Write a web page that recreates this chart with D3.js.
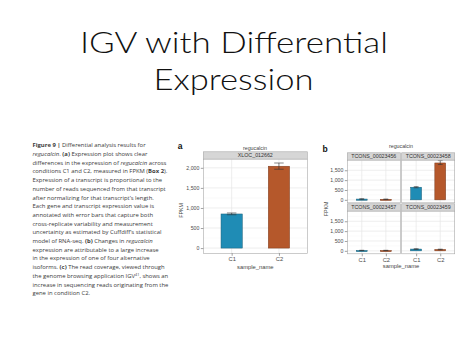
<!DOCTYPE html>
<html><head><meta charset="utf-8">
<script src="https://cdn.jsdelivr.net/npm/d3@7"></script>
<style>html,body{margin:0;padding:0;background:#fff;}svg{display:block;}</style>
</head><body>
<script>
const titleLines = ["IGV with Differential", "Expression"];
const captionLines = [
  [["b","Figure 9 | "],["n","Differential analysis results for"]],
  [["i","regucalcin"],["n",". "],["b","(a)"],["n"," Expression plot shows clear"]],
  [["n","differences in the expression of "],["i","regucalcin"],["n"," across"]],
  [["n","conditions C1 and C2, measured in FPKM ("],["b","Box 2"],["n",")."]],
  [["n","Expression of a transcript is proportional to the"]],
  [["n","number of reads sequenced from that transcript"]],
  [["n","after normalizing for that transcript\u2019s length."]],
  [["n","Each gene and transcript expression value is"]],
  [["n","annotated with error bars that capture both"]],
  [["n","cross-replicate variability and measurement"]],
  [["n","uncertainty as estimated by Cuffdiff\u2019s statistical"]],
  [["n","model of RNA-seq. "],["b","(b)"],["n"," Changes in "],["i","regucalcin"]],
  [["n","expression are attributable to a large increase"]],
  [["n","in the expression of one of four alternative"]],
  [["n","isoforms. "],["b","(c)"],["n"," The read coverage, viewed through"]],
  [["n","the genome browsing application IGV"],["s","41"],["r",", shows an"]],
  [["n","increase in sequencing reads originating from the"]],
  [["n","gene in condition C2."]]
];
const samples = ["C1", "C2"];
const geneName = "regucalcin";
const geneId = "XLOC_012662";
const geneFPKM = [850, 2040];
const geneLow = [830, 1965];
const geneHigh = [875, 2120];
const isoforms = ["TCONS_00023456", "TCONS_00023458", "TCONS_00023457", "TCONS_00023459"];
const isoFPKM = [[40, 30], [640, 1870], [20, 20], [90, 70]];
const isoLow = [[25, 20], [610, 1790], [12, 12], [70, 55]];
const isoHigh = [[55, 40], [670, 1990], [28, 28], [110, 85]];
const yTicksA = [0, 500, 1000, 1500, 2000];
const yTicksB = [0, 500, 1000, 1500];
const yLabel = "FPKM";
const xLabel = "sample_name";

const W = 474, H = 355;
const svg = d3.select("body").append("svg").attr("width", W).attr("height", H);
svg.append("rect").attr("width", W).attr("height", H).attr("fill", "#fff");

// Title
const title = svg.append("g").attr("font-family", "Lato, 'Open Sans', sans-serif")
  .attr("font-weight", 300).attr("fill", "#111").attr("text-anchor", "middle");
title.append("text").attr("x", 234).attr("y", 53.3).attr("font-size", 30)
  .attr("textLength", 308).attr("lengthAdjust", "spacingAndGlyphs").text(titleLines[0]);
title.append("text").attr("x", 233.5).attr("y", 90).attr("font-size", 30)
  .attr("textLength", 160).attr("lengthAdjust", "spacingAndGlyphs").text(titleLines[1]);

// Caption
const cap = svg.append("g").attr("font-family", "'Open Sans', 'Noto Sans', sans-serif")
  .attr("font-size", 5.9).attr("fill", "#3a3a3a");
captionLines.forEach((parts, i) => {
  const t = cap.append("text").attr("x", 32.5).attr("y", 147.3 + i * 8.7);
  parts.forEach(([st, s]) => {
    const ts = t.append("tspan").text(s);
    if (st === "b") ts.attr("font-weight", 700);
    if (st === "i") ts.attr("font-style", "italic");
    if (st === "s") ts.attr("font-size", 3.8).attr("dy", -2);
    if (st === "r") ts.attr("dy", 2);
  });
});

const colors = ["#1f8cb5", "#b5582b"];
const strokes = ["#1a5f78", "#7a3a1c"];
const fontP = "'Liberation Sans', Arial, sans-serif";

function drawPanel(g, x0, x1, y0, y1, domain, ticks, vals, lo, hi, showY, showX, barMin) {
  const x = d3.scalePoint().domain(samples).range([x0, x1]).padding(0.6);
  const y = d3.scaleLinear().domain(domain).range([y1, y0]);
  const step = x.step();
  g.append("rect").attr("x", x0).attr("y", y0).attr("width", x1 - x0).attr("height", y1 - y0).attr("fill", "#fff");
  const minor = [];
  for (let i = 0; i < ticks.length; i++) {
    const m = ticks[i] + 250;
    if (y(m) > y0) minor.push(m);
  }
  g.selectAll(null).data(minor).enter().append("line")
    .attr("x1", x0).attr("x2", x1).attr("y1", d => y(d)).attr("y2", d => y(d))
    .attr("stroke", "#f4f4f4").attr("stroke-width", 0.5);
  g.selectAll(null).data(ticks).enter().append("line")
    .attr("x1", x0).attr("x2", x1).attr("y1", d => y(d)).attr("y2", d => y(d))
    .attr("stroke", "#e6e6e6").attr("stroke-width", 0.7);
  g.selectAll(null).data(samples).enter().append("line")
    .attr("x1", d => x(d)).attr("x2", d => x(d)).attr("y1", y0).attr("y2", y1)
    .attr("stroke", "#e6e6e6").attr("stroke-width", 0.7);
  const bw = step * 0.45;
  g.selectAll(null).data(samples).enter().append("rect")
    .attr("x", d => x(d) - bw / 2).attr("width", bw)
    .attr("y", (d, i) => y(vals[i]))
    .attr("height", (d, i) => Math.max(barMin || 0, y(0) - y(vals[i])))
    .attr("fill", (d, i) => colors[i]).attr("stroke", (d, i) => strokes[i]).attr("stroke-width", 0.5);
  const cw = step * 0.1;
  samples.forEach((s, i) => {
    const cx = x(s);
    const e = g.append("g").attr("stroke", "#333").attr("stroke-width", 0.6);
    e.append("line").attr("x1", cx).attr("x2", cx).attr("y1", y(lo[i])).attr("y2", y(hi[i]));
    e.append("line").attr("x1", cx - cw).attr("x2", cx + cw).attr("y1", y(lo[i])).attr("y2", y(lo[i]));
    e.append("line").attr("x1", cx - cw).attr("x2", cx + cw).attr("y1", y(hi[i])).attr("y2", y(hi[i]));
  });
  g.append("rect").attr("x", x0).attr("y", y0).attr("width", x1 - x0).attr("height", y1 - y0)
    .attr("fill", "none").attr("stroke", "#a8a8a8").attr("stroke-width", 0.6);
  if (showY) {
    const ax = g.append("g").attr("transform", `translate(${x0},0)`)
      .call(d3.axisLeft(y).tickValues(ticks).tickSize(2.5).tickPadding(1.5).tickFormat(d3.format(",")));
    ax.select(".domain").remove();
    ax.selectAll("line").attr("stroke", "#444").attr("stroke-width", 0.5);
    ax.selectAll("text").attr("font-size", 5.2).attr("font-family", fontP).attr("fill", "#4a4a4a");
  }
  if (showX) {
    const ax = g.append("g").attr("transform", `translate(0,${y1})`)
      .call(d3.axisBottom(x).tickSize(2.5).tickPadding(1.5));
    ax.select(".domain").remove();
    ax.selectAll("line").attr("stroke", "#444").attr("stroke-width", 0.5);
    ax.selectAll("text").attr("font-size", 5.8).attr("font-family", fontP).attr("fill", "#4a4a4a");
  }
}

function strip(g, x0, x1, y0, y1, label) {
  g.append("rect").attr("x", x0).attr("y", y0).attr("width", x1 - x0).attr("height", y1 - y0)
    .attr("fill", "#d6d6d6").attr("stroke", "#a8a8a8").attr("stroke-width", 0.6);
  g.append("text").attr("x", (x0 + x1) / 2).attr("y", (y0 + y1) / 2 + 1.9)
    .attr("text-anchor", "middle").attr("font-size", 5.3).attr("font-family", fontP)
    .attr("fill", "#333").text(label);
}

function txt(x, y, s, size, extra) {
  const t = svg.append("text").attr("x", x).attr("y", y).attr("font-size", size)
    .attr("font-family", fontP).attr("fill", "#444").attr("text-anchor", "middle").text(s);
  if (extra) extra(t);
  return t;
}

// Panel a
const ga = svg.append("g");
txt(180, 148.5, "a", 8.5, t => t.attr("font-weight", 700).attr("fill", "#111"));
txt(255, 150.3, geneName, 5.3);
strip(ga, 203.3, 307.3, 151.8, 159.2, geneId);
drawPanel(ga, 203.3, 307.3, 159.2, 253.3, [-130, 2215], yTicksA, geneFPKM, geneLow, geneHigh, true, true, 0);
txt(182.5, 210.5, yLabel, 5.3, t => t.attr("transform", "rotate(-90,182.5,210.5)"));
txt(255.3, 268.5, xLabel, 5.8);

// Panel b
const gb = svg.append("g");
txt(325, 151.5, "b", 8.5, t => t.attr("font-weight", 700).attr("fill", "#111"));
txt(401, 147.5, geneName, 5.3);
const cols = [[347.3, 400.3], [401.7, 454.7]];
const rows = [[152.8, 160.2, 202.8], [203.8, 211.2, 253.8]];
isoforms.forEach((iso, k) => {
  const c = cols[k % 2], r = rows[Math.floor(k / 2)];
  strip(gb, c[0], c[1], r[0], r[1], iso);
  drawPanel(gb, c[0], c[1], r[1], r[2], [-150, 2010], yTicksB, isoFPKM[k], isoLow[k], isoHigh[k],
    k % 2 === 0, Math.floor(k / 2) === 1, 1.2);
});
txt(328, 209, yLabel, 5.3, t => t.attr("transform", "rotate(-90,328,209)"));
txt(401, 268.2, xLabel, 5.8);
</script>
</body></html>
